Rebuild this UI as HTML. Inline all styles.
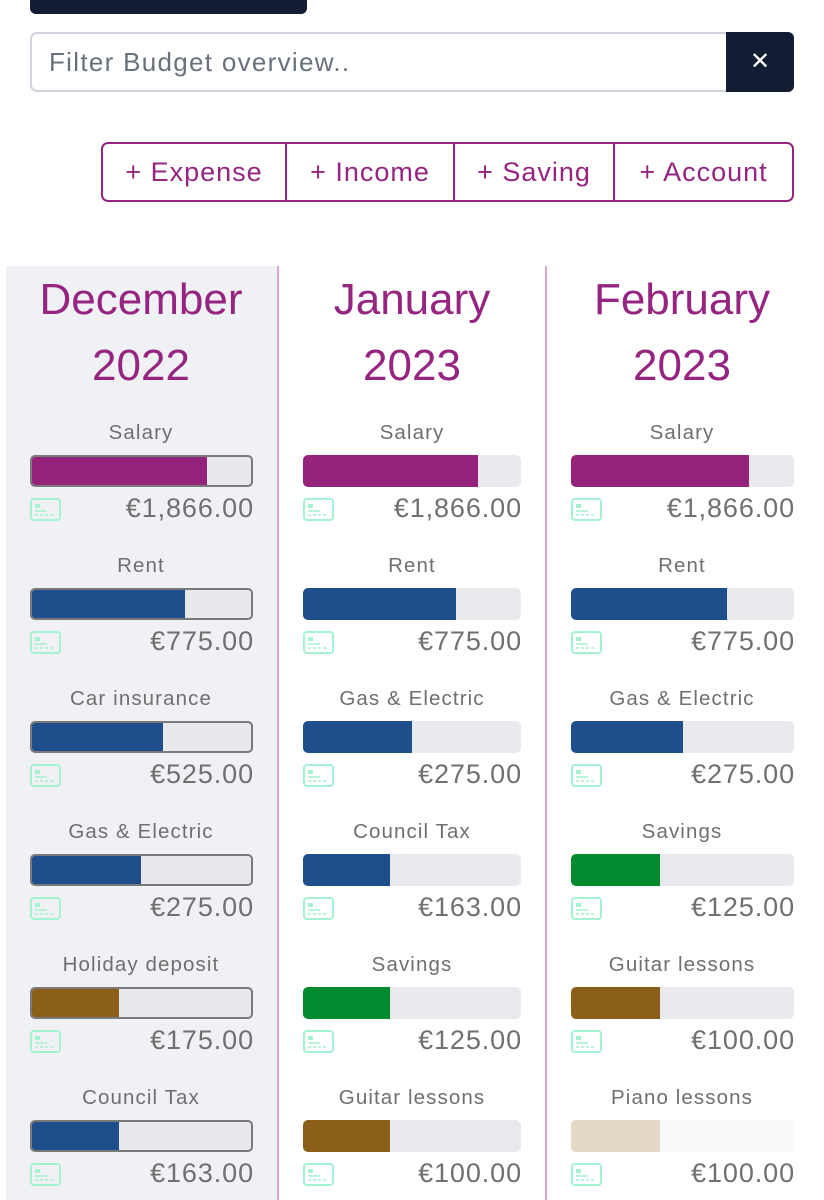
<!DOCTYPE html>
<html><head><meta charset="utf-8"><style>
*{margin:0;padding:0;box-sizing:border-box}
body{width:824px;height:1200px;background:#fff;position:relative;overflow:hidden;font-family:"Liberation Sans",sans-serif}
.a{position:absolute}
.lbl{position:absolute;width:260px;text-align:center;font-size:20.5px;line-height:24px;color:#6f6f6f;letter-spacing:1.1px}
.amt{position:absolute;width:220px;text-align:right;font-size:27px;line-height:30px;color:#707070;letter-spacing:0.9px}
.bar{position:absolute;height:32px;overflow:hidden}
.bar i{position:absolute;left:0;top:0;bottom:0}
.mon{position:absolute;width:270px;text-align:center;font-size:44px;line-height:66px;color:#952580}
.btn{position:absolute;top:142px;height:60px;border:2px solid #952580;color:#952580;font-size:27px;line-height:56px;text-align:center;letter-spacing:1px}
</style></head><body>
<div class="a" style="left:30px;top:-10px;width:277px;height:24px;background:#121c33;border-radius:6px"></div>
<div class="a" style="left:30px;top:32px;width:700px;height:60px;border:2px solid #cfd4dc;border-radius:7px 0 0 7px;font-size:26px;line-height:56px;padding-left:17px;color:#68717d;letter-spacing:1.3px">Filter Budget overview..</div>
<div class="a" style="left:726px;top:32px;width:68px;height:60px;background:#121c33;border-radius:0 6px 6px 0;color:#fff;font-size:24px;line-height:60px;text-align:center">✕</div>
<div class="btn" style="left:101px;width:186px;border-radius:7px 0 0 7px">+ Expense</div>
<div class="btn" style="left:285px;width:170px">+ Income</div>
<div class="btn" style="left:453px;width:162px">+ Saving</div>
<div class="btn" style="left:613px;width:181px;border-radius:0 7px 7px 0">+ Account</div>
<div class="a" style="left:6px;top:266px;width:272px;height:934px;background:#eff1f5"></div>
<div class="a" style="left:277px;top:266px;width:2px;height:934px;background:#d9a3d2"></div>
<div class="a" style="left:545px;top:266px;width:2px;height:934px;background:#d9a3d2"></div>
<div class="mon" style="left:6px;top:267px">December</div><div class="mon" style="left:6px;top:333px">2022</div>
<div class="mon" style="left:277px;top:267px">January</div><div class="mon" style="left:277px;top:333px">2023</div>
<div class="mon" style="left:547px;top:267px">February</div><div class="mon" style="left:547px;top:333px">2023</div>
<svg width="0" height="0" style="position:absolute"><defs><g id="ic"><rect x="1" y="1" width="29" height="21" rx="3" fill="none" stroke="#a4f2cf" stroke-width="2"/><rect x="5" y="6" width="5" height="4" fill="#a4f2cf"/><path d="M5 13h12M5 17h3M10 17h3M15 17h3M20 17h3" stroke="#a4f2cf" stroke-width="1.6"/></g></defs></svg>
<div id="c"></div>
<script>
var cols=[
{l:30,w:223,cx:141,b:true,items:[["Salary","#95227b",177,"€1,866.00"],["Rent","#1e4e8b",155,"€775.00"],["Car insurance","#1e4e8b",133,"€525.00"],["Gas & Electric","#1e4e8b",111,"€275.00"],["Holiday deposit","#8b5e1a",89,"€175.00"],["Council Tax","#1e4e8b",89,"€163.00"]]},
{l:303,w:218,cx:412,b:false,items:[["Salary","#95227b",175,"€1,866.00"],["Rent","#1e4e8b",153,"€775.00"],["Gas & Electric","#1e4e8b",109,"€275.00"],["Council Tax","#1e4e8b",87,"€163.00"],["Savings","#028a2e",87,"€125.00"],["Guitar lessons","#8b5e1a",87,"€100.00"]]},
{l:571,w:223,cx:682,b:false,items:[["Salary","#95227b",178,"€1,866.00"],["Rent","#1e4e8b",156,"€775.00"],["Gas & Electric","#1e4e8b",112,"€275.00"],["Savings","#028a2e",89,"€125.00"],["Guitar lessons","#8b5e1a",89,"€100.00"],["Piano lessons","#e3d9c6",89,"€100.00"]]}];
var h="";
cols.forEach(function(c){c.items.forEach(function(it,i){var y=431+133*i;
var bg=(it[0]=="Piano lessons")?"#f7f9fb":(c.b?"#e8e9ee":"#e9eaee");
h+='<div class="lbl" style="left:'+(c.cx-130)+'px;top:'+(y-10)+'px">'+it[0].replace("&","&amp;")+'</div>';
h+='<div class="bar" style="left:'+c.l+'px;top:'+(y+24)+'px;width:'+c.w+'px;background:'+bg+';border-radius:5px;'+(c.b?'border:2px solid #7a7a7a':'')+'"><i style="width:'+(it[2]-(c.b?2:0))+'px;background:'+it[1]+'"></i></div>';
h+='<svg class="a" style="left:'+c.l+'px;top:'+(y+67)+'px" width="32" height="24"><use href="#ic"/></svg>';
h+='<div class="amt" style="left:'+(c.l+c.w-219)+'px;top:'+(y+62)+'px">'+it[3]+'</div>';});});
document.getElementById("c").innerHTML=h;
</script>
</body></html>
